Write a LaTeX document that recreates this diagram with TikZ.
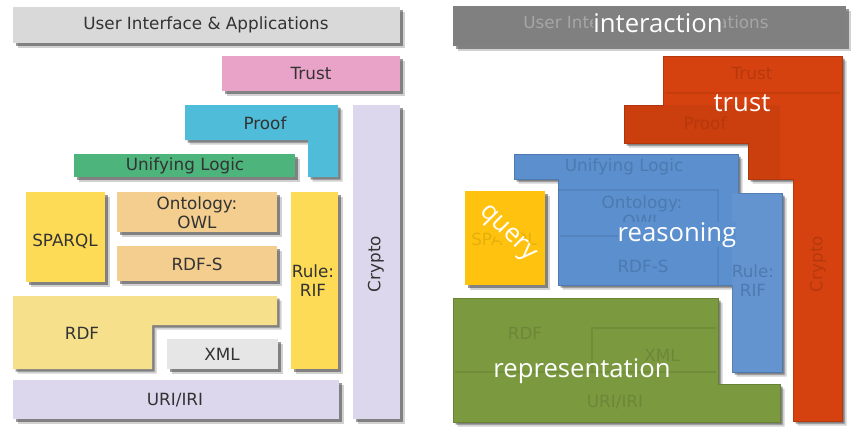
\documentclass[tikz,border=0pt]{standalone}
\usepackage{fontspec}
\setmainfont{DejaVu Sans}
\newfontfamily\overlayfont{Open Sans}

\definecolor{txt}{HTML}{333333}
\definecolor{uigray}{HTML}{D9D9D9}
\definecolor{trustpink}{HTML}{E9A3C8}
\definecolor{proofcyan}{HTML}{4FBDD9}
\definecolor{logicgreen}{HTML}{4DB47C}
\definecolor{ruleyellow}{HTML}{FDDB56}
\definecolor{owltan}{HTML}{F4CE8F}
\definecolor{rdfyellow}{HTML}{F6E08C}
\definecolor{xmlgray}{HTML}{E6E6E6}
\definecolor{urililac}{HTML}{DCD7EC}
\definecolor{intgray}{HTML}{808080}
\definecolor{trustred}{HTML}{D6420F}
\definecolor{reasonblue}{HTML}{5B8FCE}
\definecolor{queryyellow}{HTML}{FFC20E}
\definecolor{reprgreen}{HTML}{7B9A3F}

\tikzset{
  softshadow/.style={fill=black,opacity=.18,shift={(4.5,4.5)}},
  hardshadow/.style={fill=black!80,opacity=.5,shift={(2.5,2.5)}},
  lbl/.style={font=\fontsize{16.8}{19}\selectfont,text=txt,align=center,inner sep=0pt},
  ghost/.style={font=\fontsize{16.8}{19}\selectfont,align=center,inner sep=0pt},
  big/.style={font=\overlayfont\fontsize{25.7}{30}\selectfont,text=white,inner sep=0pt,anchor=base}
}
% a slab with its shadow: colour, path
\newcommand\slab[2]{\fill[softshadow] #2; \fill[hardshadow] #2; \fill[#1] #2;}

\begin{document}
\begin{tikzpicture}[x=1pt,y=-1pt]
\useasboundingbox (0,0) rectangle (862,437);
% left: the layer cake
\slab{uigray}{(13,7) rectangle (400,43)}
\slab{trustpink}{(222,56) rectangle (400,91)}
\slab{proofcyan}{(185,105) -- (338,105) -- (338,177) -- (308,177) -- (308,140) -- (185,140) -- cycle}
\slab{urililac}{(353,105) rectangle (400,419)}
\slab{logicgreen}{(74,154) rectangle (295,177)}
\slab{ruleyellow}{(26,192) rectangle (105,282)}
\slab{owltan}{(117,192) rectangle (277,232)}
\slab{owltan}{(117,246) rectangle (277,281)}
\slab{ruleyellow}{(291,192) rectangle (338,369)}
\slab{rdfyellow}{(13,296) -- (277,296) -- (277,325) -- (152,325) -- (152,369) -- (13,369) -- cycle}
\slab{xmlgray}{(167,339) rectangle (278,369)}
\slab{urililac}{(13,380) rectangle (339,419)}
\node[lbl] (ui) at (206,25) {User Interface \& Applications};
\node[lbl] (trust) at (311,73) {Trust};
\node[lbl] (proof) at (265,123) {Proof};
\node[lbl] (logic) at (185,166) {Unifying Logic};
\node[lbl] (sparql) at (65,241) {SPARQL};
\node[lbl] (owl) at (197,213) {Ontology:\\OWL};
\node[lbl] (rdfs) at (197,264) {RDF-S};
\node[lbl] (rif) at (313,281) {Rule:\\RIF};
\node[lbl] (rdf) at (82,333) {RDF};
\node[lbl] (xml) at (222,354) {XML};
\node[lbl] (uri) at (175,400) {URI/IRI};
\node[lbl,rotate=90] (crypto) at (376,264) {Crypto};
% right: grouped
\slab{intgray}{(453,6) rectangle (846,46)}
\slab{trustred}{(663,56) -- (842,56) -- (842,421) -- (793,421) -- (793,179) -- (748,179) -- (748,143) -- (624,143) -- (624,105) -- (663,105) -- cycle}
\draw[trustred!85!black,line width=.6pt] (663,56) -- (842,56) -- (842,421) -- (793,421) -- (793,179) -- (748,179) -- (748,143) -- (624,143) -- (624,105) -- (663,105) -- cycle;
\fill[black,opacity=.05] (624,105) -- (780,105) -- (780,179) -- (748,179) -- (748,143) -- (624,143) -- cycle;
\draw[black,opacity=.08,line width=1.5pt] (665,93) -- (840,93);
\slab{reasonblue}{(514,154) -- (738,154) -- (738,193) -- (782,193) -- (782,372) -- (732,372) -- (732,285) -- (558,285) -- (558,179) -- (514,179) -- cycle}
\draw[reasonblue!85!black,line width=.6pt] (514,154) -- (738,154) -- (738,193) -- (782,193) -- (782,372) -- (732,372) -- (732,285) -- (558,285) -- (558,179) -- (514,179) -- cycle;
\fill[white,opacity=.05] (732,193) rectangle (782,372);
\draw[black,opacity=.07,line width=1.5pt] (558,190) -- (718,190) -- (718,285) (560,236) -- (718,236);
\slab{queryyellow}{(465,191) rectangle (545,285)}
\slab{reprgreen}{(453,298) -- (718,298) -- (718,384) -- (780,384) -- (780,422) -- (453,422) -- cycle}
\draw[reprgreen!85!black,line width=.6pt] (453,298) -- (718,298) -- (718,384) -- (780,384) -- (780,422) -- (453,422) -- cycle;
\draw[black,opacity=.08,line width=1.5pt] (592,372) -- (592,328) -- (716,328) (455,372) -- (716,372);
% faded old labels
\node[ghost,text=intgray!70!white] (gui) at (646,24) {User Interface \& Applications};
\node[ghost,text=trustred!85!black] (gtrust) at (752,73) {Trust};
\node[ghost,text=trustred!85!black] (gproof) at (705,123) {Proof};
\node[ghost,text=trustred!85!black,rotate=90] (gcrypto) at (818,264) {Crypto};
\node[ghost,text=reasonblue!85!black] (glogic) at (624,167) {Unifying Logic};
\node[ghost,text=reasonblue!85!black] (gowl) at (642,212) {Ontology:\\OWL};
\node[ghost,text=reasonblue!85!black] (grdfs) at (643,266) {RDF-S};
\node[ghost,text=reasonblue!85!black] (grif) at (753,281) {Rule:\\RIF};
\node[ghost,text=queryyellow!90!black] (gsparql) at (504,240) {SPARQL};
\node[ghost,text=reprgreen!88!black] (grdf) at (525,333) {RDF};
\node[ghost,text=reprgreen!88!black] (gxml) at (662,355) {XML};
\node[ghost,text=reprgreen!88!black] (guri) at (615,402) {URI/IRI};
% new labels
\node[big,fill=intgray] (interaction) at (658,32) {interaction};
\node[big] (trustword) at (742,111) {trust};
\node[big,fill=reasonblue] (reasoning) at (677,241) {reasoning};
\node[big] (representation) at (582,377) {representation};
\node[big,fill=queryyellow,anchor=center,rotate=-45] (query) at (507,234) {query};
\end{tikzpicture}
\end{document}
